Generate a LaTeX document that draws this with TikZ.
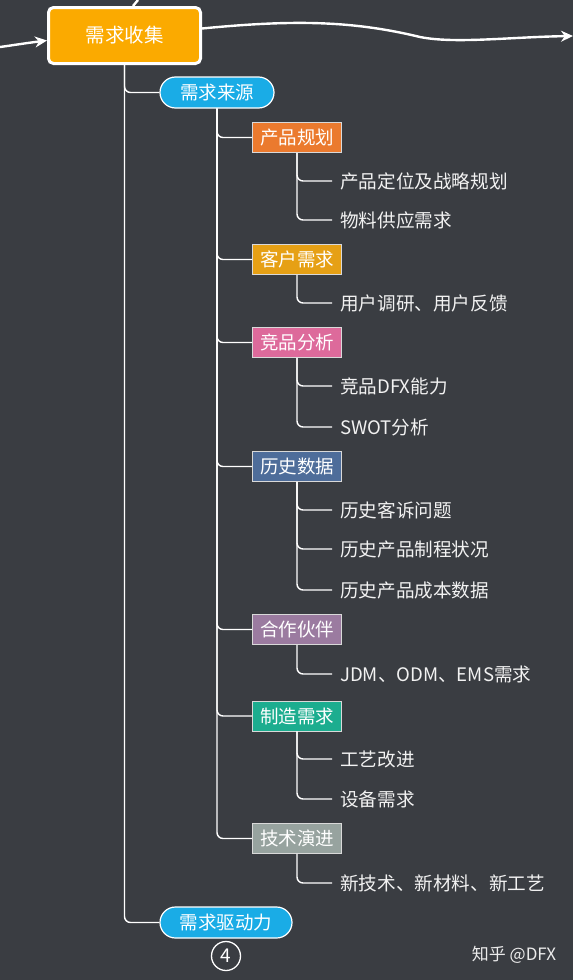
\documentclass[tikz,border=0pt]{standalone}
\usepackage{fontspec}
\setmainfont{Noto Sans CJK SC}
\usetikzlibrary{arrows.meta}
\definecolor{bgdark}{HTML}{3A3D42}
\definecolor{mainorange}{HTML}{FBAA00}
\definecolor{pillblue}{HTML}{1AACE6}
\definecolor{planorange}{HTML}{EB7A2E}
\definecolor{custgold}{HTML}{E6A015}
\definecolor{comppink}{HTML}{DD6A9B}
\definecolor{histblue}{HTML}{4E6D9A}
\definecolor{partpurple}{HTML}{9B7BA0}
\definecolor{mfgteal}{HTML}{1CAD8F}
\definecolor{techgray}{HTML}{97A39F}

\tikzset{
  link/.style={draw=white, line width=1.4pt, rounded corners=6pt},
  flow/.style={draw=white, line width=2.4pt, -{Stealth[length=12pt,width=11pt]}},
  pill/.style={shape=rectangle, draw=white, line width=1.2pt, fill=pillblue, rounded corners=15.5pt,
    minimum height=31, text=white, font=\fontsize{18.5}{20}\selectfont},
  topic/.style={shape=rectangle, draw=white!85!black, line width=0.8pt, fill=#1,
    minimum width=89, minimum height=30, text=white, font=\fontsize{18.5}{20}\selectfont},
  leaf/.style={anchor=west, inner xsep=8pt, text=white!95!black, font=\fontsize{18.6}{20}\selectfont}
}

\begin{document}
\begin{tikzpicture}[x=1pt,y=-1pt]
     \fill[bgdark] (0,0) rectangle (573,980);
     \useasboundingbox (0,0) rectangle (573,980);

     \path (124.5,35.5) node (collect) [shape=rectangle, draw=white, line width=3pt, fill=mainorange,
              rounded corners=5pt, minimum width=152, minimum height=56, text=white,
              font=\fontsize{19.5}{22}\selectfont] {需求收集}
           (217,92.5) node (source) [pill, minimum width=114] {需求来源}
           (226,922.5) node (drive) [pill, minimum width=132] {需求驱动力}
           (226,956) node (num) [shape=circle, draw=white, line width=1.3pt, minimum size=29, inner sep=0,
              text=white, font=\fontsize{19}{20}\selectfont] {4}
           (514,955) node (mark) [text=white!92!black, font=\fontsize{17}{20}\selectfont] {知乎 @DFX}
     ;

     \path (297,137.5) node (plan) [topic=planorange] {产品规划}
           (297,259.5) node (cust) [topic=custgold] {客户需求}
           (297,342.5) node (comp) [topic=comppink] {竞品分析}
           (297,466.5) node (hist) [topic=histblue] {历史数据}
           (297,629.5) node (part) [topic=partpurple] {合作伙伴}
           (297,716) node (mfg) [topic=mfgteal] {制造需求}
           (297,838.5) node (tech) [topic=techgray] {技术演进}
     ;

     \path (332,181) node (plan1) [leaf] {产品定位及战略规划}
           (332,220) node (plan2) [leaf] {物料供应需求}
           (332,303) node (cust1) [leaf] {用户调研、用户反馈}
           (332,386) node (comp1) [leaf] {竞品DFX能力}
           (332,427) node (comp2) [leaf] {SWOT分析}
           (332,510) node (hist1) [leaf] {历史客诉问题}
           (332,549) node (hist2) [leaf] {历史产品制程状况}
           (332,590) node (hist3) [leaf] {历史产品成本数据}
           (332,674) node (part1) [leaf] {JDM、ODM、EMS需求}
           (332,759) node (mfg1) [leaf] {工艺改进}
           (332,799) node (mfg2) [leaf] {设备需求}
           (332,883) node (tech1) [leaf] {新技术、新材料、新工艺}
     ;

     \coordinate (inL) at (0,47);
     \coordinate (inT) at (138,0);
     \coordinate (outR) at (573,36);

     \draw[flow] (inL) to[out=8,in=187] ([yshift=-5pt]collect.west);
     \draw[draw=white, line width=2.4pt] (inT) -- ([xshift=8.5pt]collect.north);
     \draw[flow] ([yshift=7pt]collect.east) .. controls (290,20) and (350,20) .. (420,37)
                 .. controls (455,44) and (510,37) .. (outR);

     \draw[link] (collect.south) |- (source.west);
     \draw[link] (collect.south) |- (drive.west);

     \draw[link] (source.south) |- (plan.west);
     \draw[link] (source.south) |- (cust.west);
     \draw[link] (source.south) |- (comp.west);
     \draw[link] (source.south) |- (hist.west);
     \draw[link] (source.south) |- (part.west);
     \draw[link] (source.south) |- (mfg.west);
     \draw[link] (source.south) |- (tech.west);

     \draw[link] (plan.south) |- (plan1.west);
     \draw[link] (plan.south) |- (plan2.west);
     \draw[link] (cust.south) |- (cust1.west);
     \draw[link] (comp.south) |- (comp1.west);
     \draw[link] (comp.south) |- (comp2.west);
     \draw[link] (hist.south) |- (hist1.west);
     \draw[link] (hist.south) |- (hist2.west);
     \draw[link] (hist.south) |- (hist3.west);
     \draw[link] (part.south) |- (part1.west);
     \draw[link] (mfg.south) |- (mfg1.west);
     \draw[link] (mfg.south) |- (mfg2.west);
     \draw[link] (tech.south) |- (tech1.west);
\end{tikzpicture}
\end{document}
